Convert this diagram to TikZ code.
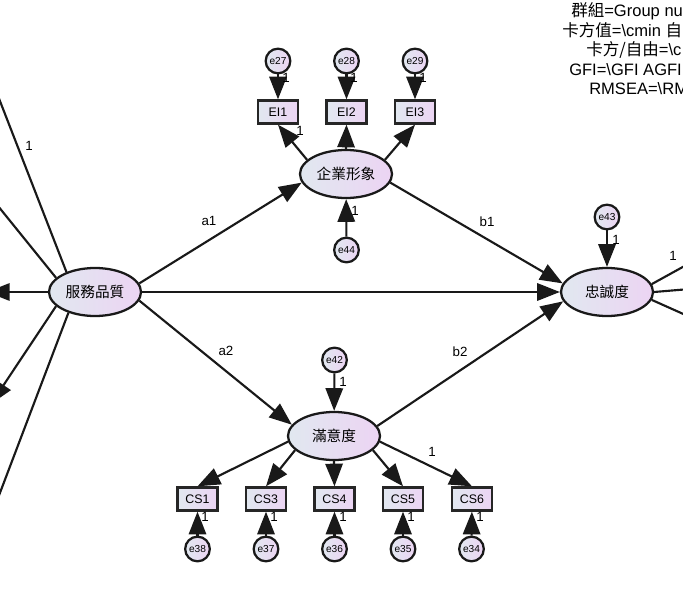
\documentclass[tikz,border=0pt]{standalone}
\usepackage{fontspec}
\setmainfont{Liberation Sans}
\newfontfamily\cjk{Noto Sans CJK TC}
\usetikzlibrary{shapes.geometric,arrows.meta}
\definecolor{shadeL}{HTML}{E1E8F0}
\definecolor{shadeR}{HTML}{ECD4F3}
\tikzset{
  latent/.style={ellipse,draw=black!90,line width=1.7pt,left color=shadeL,right color=shadeR,inner sep=0pt,minimum width=69pt,minimum height=36pt,font=\cjk\fontsize{11}{12}\selectfont},
  errvar/.style={circle,draw=black!90,line width=1.7pt,left color=shadeL,right color=shadeR,inner sep=0pt,minimum size=18.5pt,font=\fontsize{7.6}{8}\selectfont},
  observed/.style={rectangle,draw=black!85,line width=2pt,left color=shadeL,right color=shadeR,inner sep=0pt,minimum width=30pt,minimum height=17pt,font=\fontsize{9.3}{10}\selectfont},
  conn/.style={line width=1.6pt,black!90},
  arrowconn/.style={conn,-{Triangle[length=17pt,width=13pt]}},
  lbl/.style={inner sep=0pt,font=\fontsize{10}{11}\selectfont},
  hdr/.style={anchor=west,inner sep=0pt,font=\fontsize{12.4}{14}\selectfont}
}
\begin{document}
\begin{tikzpicture}[x=0.75pt,y=-0.75pt]
\useasboundingbox (0,0) rectangle (683,603);
\clip (0,0) rectangle (683,603);
% latent variables
\node[latent] (sq) at (95,292) {服務品質};
\node[latent] (ci) at (346,174) {企業形象};
\node[latent] (lo) at (607,292) {忠誠度};
\node[latent] (sa) at (334,436) {滿意度};
% observed
\node[observed] (ei1) at (278,112) {EI1};
\node[observed] (ei2) at (346.5,112) {EI2};
\node[observed] (ei3) at (415,112) {EI3};
\node[observed] (cs1) at (197.5,499) {CS1};
\node[observed] (cs3) at (266,499) {CS3};
\node[observed] (cs4) at (334.5,499) {CS4};
\node[observed] (cs5) at (403,499) {CS5};
\node[observed] (cs6) at (472,499) {CS6};
% errors
\node[errvar] (e27) at (278,61) {e27};
\node[errvar] (e28) at (346.5,61) {e28};
\node[errvar] (e29) at (415,61) {e29};
\node[errvar] (e44) at (346.5,250) {e44};
\node[errvar] (e43) at (607,217) {e43};
\node[errvar] (e42) at (334.5,360) {e42};
\node[errvar] (e38) at (197.5,549) {e38};
\node[errvar] (e37) at (266,549) {e37};
\node[errvar] (e36) at (334.5,549) {e36};
\node[errvar] (e35) at (403,549) {e35};
\node[errvar] (e34) at (471.5,549) {e34};
% free ends
\coordinate (f1) at (-2,96);
\coordinate (f2) at (-2,206);
\coordinate (f3) at (-13,292);
\coordinate (f4) at (-9,404);
\coordinate (f5) at (-2,498);
\coordinate (g1) at (690,263);
\coordinate (g2) at (690,289);
\coordinate (g3) at (690,317);
% connectors
\draw[conn] (sq.145) -- (f1);
\draw[conn] (sq.160) -- (f2);
\draw[arrowconn] (sq.west) -- (f3);
\draw[arrowconn] (sq.200) -- (f4);
\draw[conn] (sq.218) -- (f5);
\draw[conn] (lo.10) -- (g1);
\draw[conn] (lo.east) -- (g2);
\draw[conn] (lo.-10) -- (g3);
\draw[arrowconn] (sq.11) -- (ci.191);
\draw[arrowconn] (sq.-11) -- (sa.165);
\draw[arrowconn] (sq.east) -- (lo.west);
\draw[arrowconn] (ci.-11) -- (lo.169);
\draw[arrowconn] (sa.13) -- (lo.192);
\draw[arrowconn] (ci.160) -- (ei1.south);
\draw[arrowconn] (ci.north) -- (ei2.south);
\draw[arrowconn] (ci.20) -- (ei3.south);
\draw[arrowconn] (sa.187) -- (cs1.north);
\draw[arrowconn] (sa.200) -- (cs3.north);
\draw[arrowconn] (sa.south) -- (cs4.north);
\draw[arrowconn] (sa.340) -- (cs5.north);
\draw[arrowconn] (sa.353) -- (cs6.north);
\draw[arrowconn] (e27) -- (ei1);
\draw[arrowconn] (e28) -- (ei2);
\draw[arrowconn] (e29) -- (ei3);
\draw[arrowconn] (e44) -- (ci);
\draw[arrowconn] (e43) -- (lo);
\draw[arrowconn] (e42) -- (sa);
\draw[arrowconn] (e38) -- (cs1);
\draw[arrowconn] (e37) -- (cs3);
\draw[arrowconn] (e36) -- (cs4);
\draw[arrowconn] (e35) -- (cs5);
\draw[arrowconn] (e34) -- (cs6);
% labels
\node[lbl] (la1) at (209,221) {a1};
\node[lbl] (lb1) at (487,222) {b1};
\node[lbl] (la2) at (226,351) {a2};
\node[lbl] (lb2) at (460,352) {b2};
\node[lbl] (n1) at (29,146) {1};
\node[lbl] (n2) at (673,256) {1};
\node[lbl] (n3) at (616,240) {1};
\node[lbl] (n4) at (432,452) {1};
\node[lbl] (n5) at (355,211) {1};
\node[lbl] (n6) at (300,131) {1};
\node[lbl] (n7) at (286,78) {1};
\node[lbl] (n8) at (354,78) {1};
\node[lbl] (n9) at (423,78) {1};
\node[lbl] (n10) at (343,382) {1};
\node[lbl] (n11) at (205,517) {1};
\node[lbl] (n12) at (274,517) {1};
\node[lbl] (n13) at (343,517) {1};
\node[lbl] (n14) at (411,517) {1};
\node[lbl] (n15) at (480,517) {1};
% header text
\node[hdr] (h1) at (571,11) {{\cjk 群組}=Group nu};
\node[hdr] (h2) at (562,30) {{\cjk 卡方值}=\textbackslash cmin {\cjk 自}};
\node[hdr] (h3) at (586,50) {{\cjk 卡方/自由}=\textbackslash c};
\node[hdr] (h4) at (569,70) {GFI=\textbackslash GFI AGFI};
\node[hdr] (h5) at (589,89) {RMSEA=\textbackslash RM};
\end{tikzpicture}
\end{document}
